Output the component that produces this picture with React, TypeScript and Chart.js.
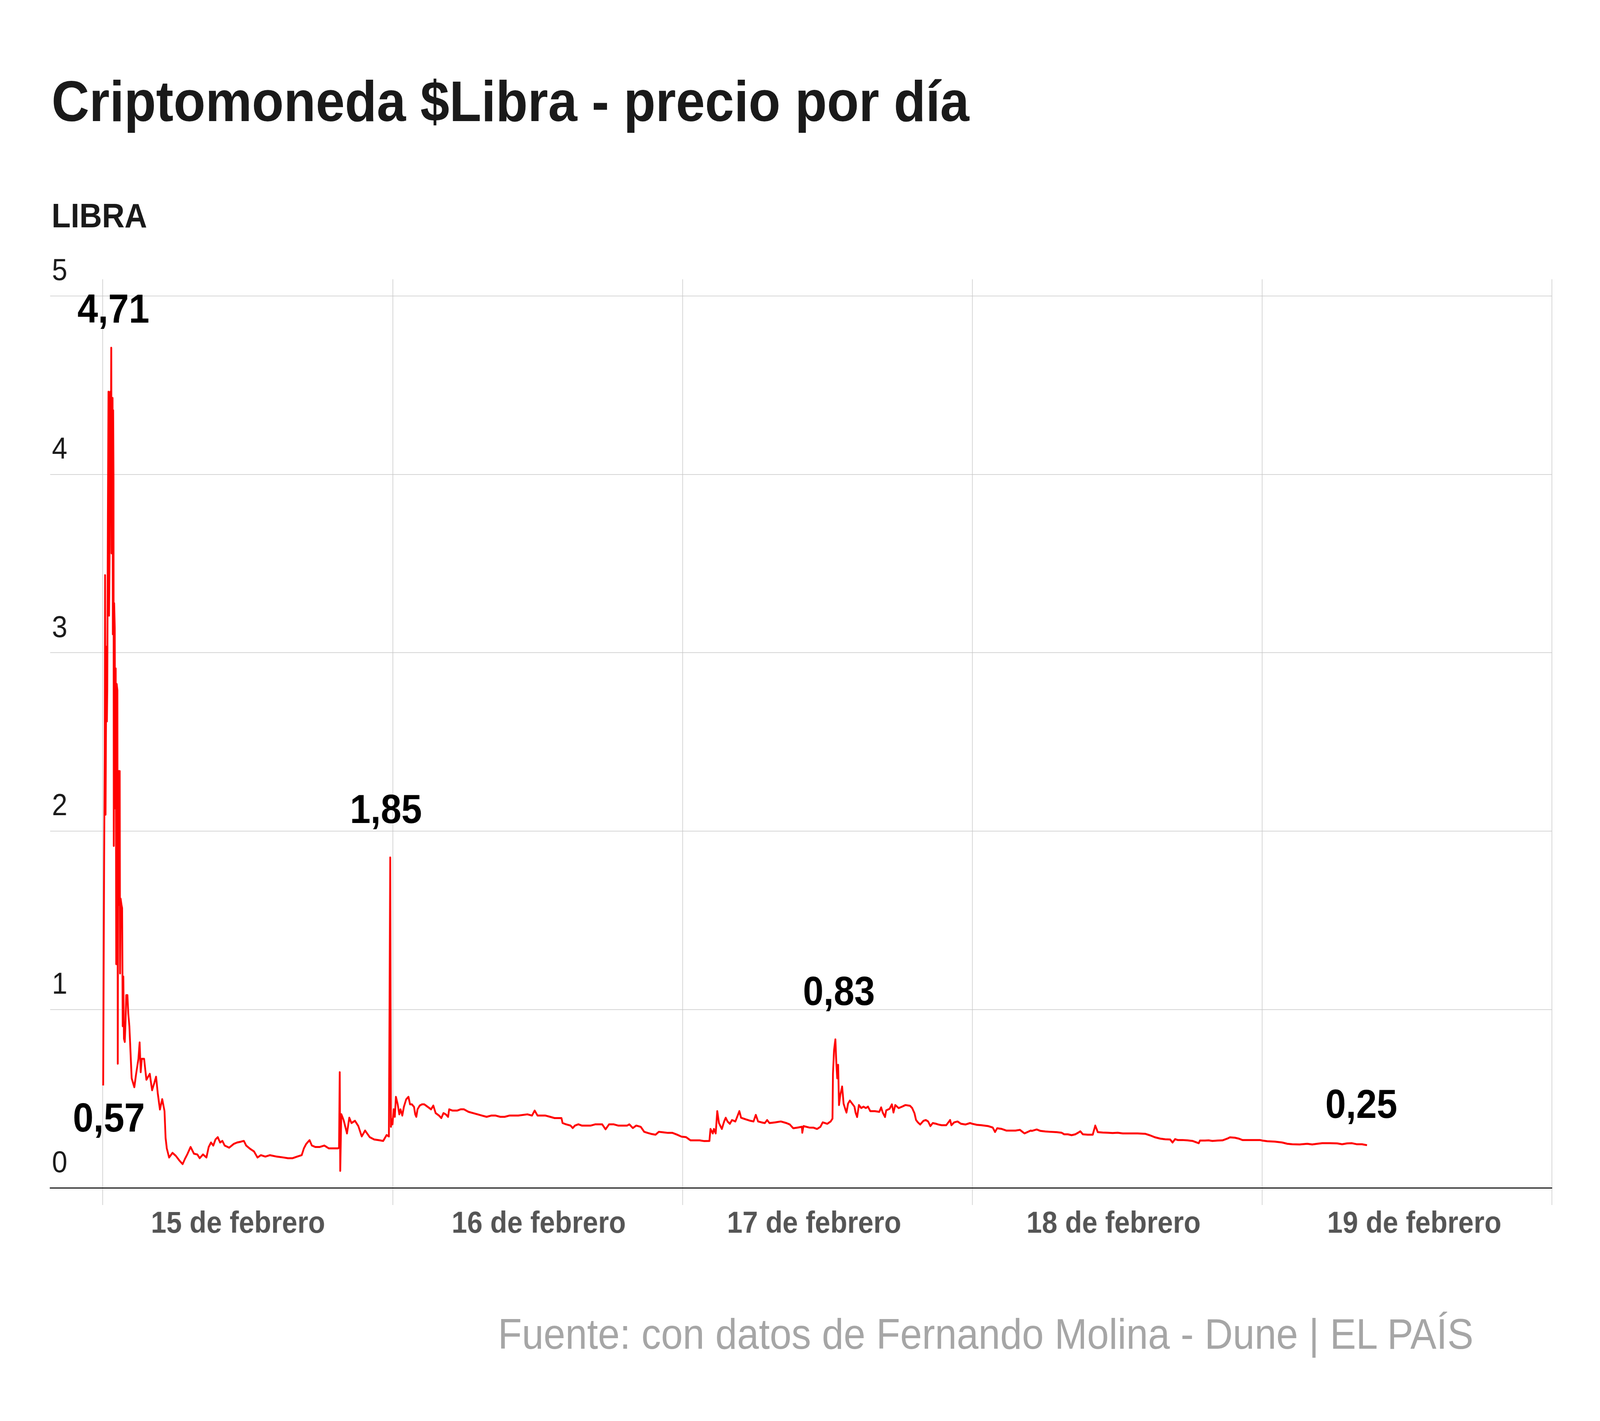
import React, { useEffect, useRef } from "react";
import { Chart, registerables } from "chart.js";

Chart.register(...registerables);

// [hours since 15 Feb 00:00, price in USD]
const feb15: [number, number][] = [
  [0.03, 0.574], [0.06, 1.045], [0.11, 1.848], [0.16, 2.441], [0.19, 3.435], [0.23, 2.092], [0.26, 2.511],
  [0.30, 3.034], [0.34, 2.615], [0.37, 2.790], [0.42, 3.767], [0.47, 4.464], [0.52, 3.208], [0.57, 3.592],
  [0.62, 4.464], [0.67, 4.185], [0.70, 4.71], [0.73, 3.557], [0.77, 3.906], [0.81, 4.429], [0.83, 3.104],
  [0.86, 4.360], [0.89, 3.976], [0.91, 1.917], [0.94, 3.278], [0.99, 3.139], [1.03, 2.127], [1.07, 2.912],
  [1.11, 1.254], [1.15, 2.825], [1.21, 2.790], [1.24, 0.696], [1.28, 2.232], [1.32, 2.337], [1.35, 1.586],
  [1.40, 2.337], [1.43, 1.202], [1.48, 1.621], [1.55, 1.586], [1.60, 1.569], [1.65, 0.906], [1.70, 1.185],
  [1.75, 0.836], [1.82, 0.818], [1.89, 0.941], [1.94, 1.080], [2.04, 1.080], [2.11, 0.976],
  [2.20, 0.907], [2.39, 0.614], [2.61, 0.564], [2.76, 0.639], [2.95, 0.723], [3.05, 0.815], [3.14, 0.648],
  [3.23, 0.723], [3.42, 0.723], [3.61, 0.606], [3.89, 0.639], [4.08, 0.547], [4.27, 0.589], [4.41, 0.623],
  [4.55, 0.531], [4.73, 0.439], [4.92, 0.497], [5.11, 0.430], [5.20, 0.279], [5.30, 0.221], [5.49, 0.170],
  [5.77, 0.196], [6.05, 0.179], [6.33, 0.154], [6.61, 0.133], [6.80, 0.162], [6.99, 0.187], [7.27, 0.229],
  [7.55, 0.191], [7.83, 0.187], [8.02, 0.166], [8.30, 0.187], [8.58, 0.170], [8.77, 0.229], [8.96, 0.254],
  [9.15, 0.237], [9.33, 0.271], [9.52, 0.284], [9.71, 0.254], [9.90, 0.263], [10.09, 0.237], [10.46, 0.225],
  [10.84, 0.246], [11.12, 0.254], [11.40, 0.258], [11.68, 0.263], [11.87, 0.237], [12.15, 0.221], [12.52, 0.204],
  [12.81, 0.170], [13.09, 0.183], [13.46, 0.175], [13.84, 0.183], [14.40, 0.175], [14.96, 0.170], [15.34, 0.166],
  [15.72, 0.166], [16.09, 0.175], [16.47, 0.183], [16.65, 0.221], [16.84, 0.246], [17.12, 0.267], [17.31, 0.237],
  [17.59, 0.229], [17.97, 0.229], [18.34, 0.237], [18.72, 0.221], [19.09, 0.221], [19.47, 0.221], [19.56, 0.225],
  [19.62, 0.648], [19.66, 0.095], [19.75, 0.413], [19.94, 0.380], [20.22, 0.305], [20.41, 0.393], [20.59, 0.363],
  [20.88, 0.376], [21.16, 0.346], [21.44, 0.288], [21.72, 0.321], [22.10, 0.284], [22.47, 0.271], [22.85, 0.267],
  [23.22, 0.263], [23.50, 0.296], [23.69, 0.288], [23.80, 1.852], [23.86, 0.342], [23.93, 0.384], [23.99, 0.356],
];

const feb16: [number, number][] = [
  [24.08, 0.440], [24.18, 0.398], [24.27, 0.510], [24.42, 0.468], [24.55, 0.412], [24.65, 0.440], [24.80, 0.405],
  [24.93, 0.454], [25.12, 0.496], [25.31, 0.510], [25.44, 0.468], [25.59, 0.468], [25.77, 0.454], [25.87, 0.412],
  [25.96, 0.398], [26.06, 0.440], [26.24, 0.461], [26.43, 0.468], [26.62, 0.468], [26.90, 0.454], [27.18, 0.440],
  [27.37, 0.461], [27.56, 0.419], [27.84, 0.405], [28.03, 0.391], [28.21, 0.419], [28.40, 0.412], [28.59, 0.398],
  [28.68, 0.440], [28.96, 0.433], [29.34, 0.433], [29.62, 0.440], [29.90, 0.440], [30.28, 0.426], [30.65, 0.419],
  [31.03, 0.412], [31.40, 0.405], [31.78, 0.398], [32.16, 0.405], [32.53, 0.405], [32.91, 0.398], [33.28, 0.398],
  [33.66, 0.405], [34.41, 0.405], [35.16, 0.412], [35.54, 0.405], [35.76, 0.433], [36.00, 0.405], [36.66, 0.405],
  [37.04, 0.398], [37.41, 0.391], [37.98, 0.391], [38.07, 0.363], [38.35, 0.356], [38.73, 0.349], [38.91, 0.335],
  [39.10, 0.349], [39.38, 0.356], [39.66, 0.349], [40.41, 0.349], [40.79, 0.356], [41.35, 0.356], [41.63, 0.328],
  [41.92, 0.356], [42.29, 0.356], [42.67, 0.349], [43.42, 0.349], [43.60, 0.356], [43.89, 0.335], [44.17, 0.349],
  [44.54, 0.342], [44.83, 0.314], [45.11, 0.308], [45.48, 0.301], [45.77, 0.298], [46.04, 0.314], [46.42, 0.311],
  [46.80, 0.308], [47.17, 0.308], [47.55, 0.298], [47.92, 0.287],
];

const feb17: [number, number][] = [
  [48.30, 0.284], [48.67, 0.266], [49.05, 0.266], [49.42, 0.266], [49.80, 0.262], [50.23, 0.263], [50.32, 0.330],
  [50.51, 0.305], [50.60, 0.330], [50.75, 0.305], [50.88, 0.430], [51.02, 0.363], [51.26, 0.330], [51.45, 0.372],
  [51.58, 0.393], [51.73, 0.372], [51.92, 0.359], [52.10, 0.380], [52.38, 0.372], [52.57, 0.405], [52.71, 0.430],
  [52.85, 0.393], [53.23, 0.384], [53.61, 0.376], [53.88, 0.372], [54.07, 0.409], [54.26, 0.372], [54.54, 0.367],
  [54.82, 0.363], [55.01, 0.380], [55.20, 0.363], [55.67, 0.367], [56.14, 0.372], [56.61, 0.363], [56.89, 0.355],
  [57.17, 0.334], [57.55, 0.338], [57.88, 0.342], [57.92, 0.309], [58.02, 0.346], [58.49, 0.338], [58.86, 0.337],
  [59.14, 0.330], [59.42, 0.342], [59.61, 0.367], [59.99, 0.359], [60.27, 0.372], [60.42, 0.388], [60.46, 0.639],
  [60.55, 0.773], [60.66, 0.832], [60.74, 0.698], [60.81, 0.614], [60.89, 0.690], [60.96, 0.464], [61.07, 0.522],
  [61.22, 0.568], [61.34, 0.472], [61.49, 0.439], [61.58, 0.422], [61.71, 0.472], [61.86, 0.489], [62.05, 0.472],
  [62.24, 0.455], [62.33, 0.422], [62.46, 0.397], [62.61, 0.464], [62.80, 0.447], [62.99, 0.455], [63.18, 0.447],
  [63.36, 0.455], [63.55, 0.430], [63.93, 0.430], [64.30, 0.426], [64.45, 0.451], [64.58, 0.422], [64.77, 0.397],
  [64.87, 0.434], [65.15, 0.443], [65.34, 0.468], [65.47, 0.422], [65.62, 0.464], [65.90, 0.447], [66.18, 0.455],
  [66.46, 0.464], [66.84, 0.460], [67.02, 0.447], [67.21, 0.418], [67.34, 0.380], [67.49, 0.367], [67.68, 0.355],
  [67.96, 0.376], [68.15, 0.380], [68.34, 0.372], [68.53, 0.346], [68.72, 0.363], [69.00, 0.359], [69.18, 0.355],
  [69.46, 0.351], [69.84, 0.351], [70.16, 0.380], [70.27, 0.351], [70.50, 0.367], [70.78, 0.372], [71.06, 0.359],
  [71.44, 0.355], [71.81, 0.363],
];

const feb18: [number, number][] = [
  [72.00, 0.359], [72.38, 0.353], [72.75, 0.351], [73.31, 0.346], [73.69, 0.338], [73.88, 0.313], [74.06, 0.334],
  [74.44, 0.330], [74.81, 0.321], [75.19, 0.321], [75.57, 0.321], [75.94, 0.325], [76.32, 0.305], [76.84, 0.321],
  [76.92, 0.319], [77.33, 0.327], [77.64, 0.319], [78.05, 0.316], [78.46, 0.314], [78.98, 0.312], [79.39, 0.309],
  [79.60, 0.300], [79.91, 0.300], [80.22, 0.295], [80.53, 0.300], [80.84, 0.312], [80.94, 0.317], [81.15, 0.300],
  [81.56, 0.298], [81.97, 0.298], [82.18, 0.349], [82.39, 0.312], [82.80, 0.310], [83.21, 0.309], [83.62, 0.307],
  [84.04, 0.309], [84.45, 0.305], [85.07, 0.305], [85.69, 0.305], [86.31, 0.303], [86.72, 0.294], [87.14, 0.283],
  [87.55, 0.276], [87.96, 0.272], [88.38, 0.271], [88.58, 0.254], [88.79, 0.273], [89.00, 0.268], [89.41, 0.268],
  [89.82, 0.266], [90.23, 0.263], [90.75, 0.250], [90.85, 0.265], [91.26, 0.265], [91.57, 0.266], [91.88, 0.263],
  [92.30, 0.265], [92.71, 0.266], [93.12, 0.276], [93.33, 0.283], [93.74, 0.281], [94.05, 0.276], [94.36, 0.268],
  [94.77, 0.268], [95.19, 0.268], [95.81, 0.268],
];

const feb19: [number, number][] = [
  [96.01, 0.265], [96.42, 0.261], [97.05, 0.259], [97.66, 0.254], [98.08, 0.247], [98.49, 0.244], [99.11, 0.243],
  [99.73, 0.247], [100.14, 0.243], [100.56, 0.247], [100.97, 0.250], [101.59, 0.250], [102.21, 0.249],
  [102.62, 0.244], [103.03, 0.249], [103.44, 0.250], [103.86, 0.244], [104.27, 0.244], [104.68, 0.239],
];

const yTicks = [0, 1, 2, 3, 4, 5];
const dayBoundaryHours = [0, 24, 48, 72, 96, 120];
const dayLabels = ["15 de febrero", "16 de febrero", "17 de febrero", "18 de febrero", "19 de febrero"];
const dayLabelHours = [11.2, 36.1, 58.9, 83.7, 108.6];
const calloutTexts = ["4,71", "0,57", "1,85", "0,83", "0,25"];
const calloutHours = [0.70, 0.03, 23.80, 60.66, 104.68];

const X_MIN = -4.36;
const X_MAX = 120;
const Y_MAX = 5.094;

// design size of the graphic; it is scaled to whatever viewport the page gets
const W = 4500;
const H = 3638;
const FONT = '"Liberation Sans", Arial, Helvetica, sans-serif';
// pixel offsets of each callout from its anchor point (style only)
const CALLOUT_OFFSETS: [number, number][] = [[6, -64], [16, 118], [-12, -88], [10, -88], [-16, -70]];

export default function App() {
  const canvasRef = useRef<HTMLCanvasElement | null>(null);
  const vw = typeof window !== "undefined" ? window.innerWidth : W;
  const vh = typeof window !== "undefined" ? window.innerHeight : H;
  const sx = vw / W;
  const sy = vh / H;

  useEffect(() => {
    const canvas = canvasRef.current;
    if (!canvas) return;
    const series = [...feb15, ...feb16, ...feb17, ...feb18, ...feb19];

    const calloutPlugin = {
      id: "callouts",
      afterDatasetsDraw(chart: any) {
        const { ctx, scales } = chart;
        ctx.save();
        ctx.font = `bold 104px ${FONT}`;
        ctx.fillStyle = "#000000";
        ctx.textAlign = "center";
        ctx.textBaseline = "alphabetic";
        calloutTexts.forEach((text, i) => {
          const pt = series.find((p) => p[0] === calloutHours[i]);
          if (!pt) return;
          const px = scales.x.getPixelForValue(pt[0]) + CALLOUT_OFFSETS[i][0];
          const py = scales.y.getPixelForValue(pt[1]) + CALLOUT_OFFSETS[i][1];
          ctx.fillText(text, px, py);
        });
        ctx.restore();
      },
    };

    const chart = new Chart(canvas, {
      type: "line",
      data: {
        datasets: [
          {
            data: series.map(([x, y]) => ({ x, y })),
            borderColor: "#ff0000",
            borderWidth: 5,
            pointRadius: 0,
            tension: 0,
            fill: false,
            borderJoinStyle: "round",
          } as any,
        ],
      },
      options: {
        animation: false,
        responsive: false,
        devicePixelRatio: 1,
        layout: { padding: { left: 141, right: 135, top: 715, bottom: 353 } },
        plugins: { legend: { display: false }, tooltip: { enabled: false }, title: { display: false } },
        scales: {
          x: {
            type: "linear",
            position: "bottom",
            weight: 0,
            min: X_MIN,
            max: X_MAX,
            afterBuildTicks: (s: any) => {
              s.ticks = dayBoundaryHours.map((v) => ({ value: v }));
            },
            afterFit: (s: any) => {
              s.height = 44;
            },
            grid: { color: "#c4c4c4", lineWidth: 1.5, drawTicks: true, tickLength: 44 },
            border: { display: true, color: "#222222", width: 3, z: 2 },
            ticks: { display: false },
          },
          xl: {
            type: "linear",
            position: "bottom",
            weight: 1,
            min: X_MIN,
            max: X_MAX,
            afterBuildTicks: (s: any) => {
              s.ticks = dayLabelHours.map((v) => ({ value: v }));
            },
            afterFit: (s: any) => {
              s.height = 200;
            },
            grid: { display: false },
            border: { display: false },
            ticks: {
              autoSkip: false,
              maxRotation: 0,
              padding: -5,
              color: "#555555",
              font: { family: FONT, size: 78, weight: "bold" },
              callback: (_v: any, i: number) => dayLabels[i],
            },
          },
          y: {
            type: "linear",
            min: 0,
            max: Y_MAX,
            afterBuildTicks: (s: any) => {
              s.ticks = yTicks.map((v) => ({ value: v }));
            },
            afterFit: (s: any) => {
              s.width = 0;
            },
            grid: { color: "#c8c8c8", lineWidth: 1.5, drawTicks: false },
            border: { display: false },
            ticks: {
              mirror: true,
              padding: 5,
              labelOffset: -62,
              color: "#1a1a1a",
              font: { family: FONT, size: 78 },
              callback: (v: any) => String(v),
            },
          },
        },
      } as any,
      plugins: [calloutPlugin],
    });

    return () => chart.destroy();
  }, []);

  return (
    <div style={{ position: "fixed", left: 0, top: 0, width: vw, height: vh, overflow: "hidden", background: "#ffffff" }}>
      <style>{"html,body{margin:0;padding:0;overflow:hidden;background:#fff;}"}</style>
      <div
        style={{
          position: "absolute",
          left: 0,
          top: 0,
          width: W,
          height: H,
          transform: `scale(${sx}, ${sy})`,
          transformOrigin: "0 0",
          background: "#ffffff",
        }}
      >
        <canvas
          ref={canvasRef}
          width={W}
          height={H}
          style={{ position: "absolute", left: 0, top: 0, width: W, height: H }}
        />
        <div
          style={{
            position: "absolute",
            left: 145,
            top: 186,
            fontFamily: FONT,
            fontWeight: 700,
            fontSize: 147,
            lineHeight: 1,
            color: "#1a1a1a",
            whiteSpace: "nowrap",
          }}
        >
          Criptomoneda $Libra - precio por día
        </div>
        <div
          style={{
            position: "absolute",
            left: 145,
            top: 508,
            fontFamily: FONT,
            fontWeight: 700,
            fontSize: 88,
            lineHeight: 1,
            color: "#1a1a1a",
            whiteSpace: "nowrap",
          }}
        >
          LIBRA
        </div>
        <div
          style={{
            position: "absolute",
            right: 356,
            top: 3360,
            fontFamily: FONT,
            fontWeight: 400,
            fontSize: 110,
            lineHeight: 1,
            color: "#a6a6a6",
            whiteSpace: "nowrap",
          }}
        >
          Fuente: con datos de Fernando Molina - Dune | EL PAÍS
        </div>
      </div>
    </div>
  );
}
